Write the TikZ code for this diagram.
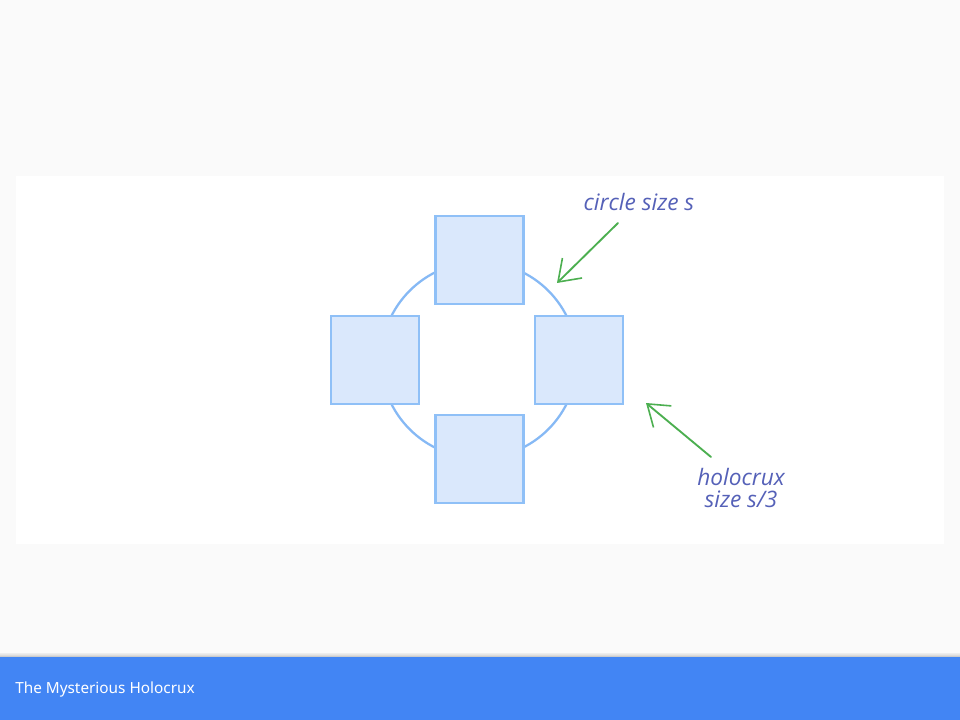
\documentclass[tikz,border=0pt]{standalone}
\usepackage{fontspec}
\setmainfont{Noto Sans}
\newfontfamily\handfont{Open Sans}
\usetikzlibrary{positioning,arrows.meta}

\definecolor{pagebg}{HTML}{FAFAFA}
\definecolor{barblue}{HTML}{4285F4}
\definecolor{boxfill}{HTML}{DAE8FC}
\definecolor{boxline}{HTML}{8FC0F7}
\definecolor{ringline}{HTML}{86B9F5}
\definecolor{arrowgreen}{HTML}{4CAF50}
\definecolor{notetext}{HTML}{5561B8}

\tikzset{
  holobox/.style={draw=boxline, fill=boxfill, line width=1.6pt, minimum size=66pt, inner sep=0pt},
  notearrow/.style={draw=arrowgreen, line width=1.4pt, line cap=round, -{Straight Barb[length=15pt, width=21pt, line width=1.2pt]}},
  note/.style={text=notetext, font=\handfont\itshape\fontsize{17}{16.5}\selectfont, align=center, inner sep=0pt}
}

\begin{document}
\begin{tikzpicture}[x=0.75pt, y=-0.75pt]
\useasboundingbox (0,0) rectangle (960,720);
\fill[pagebg] (0,0) rectangle (960,720);
\fill[white] (16,176) rectangle (944,544);

% ring behind the holocruxes
\draw[ringline, line width=1.7pt] (479,360) circle[radius=98];

\node[holobox] (top) at (479.5,260) {};
\node[holobox] (left) at (375,360) {};
\node[holobox] (right) at (579,360) {};
\node[holobox] (bottom) at (479.5,459) {};

% notes
\node[note] (circlenote) at (639,202) {circle size s};
\node[note] (holonote) at (741,488) {holocrux\\size s/3};

\coordinate (ringtail) at (618,223);
\coordinate (ringtip) at (557,283);
\coordinate (holotail) at (711,457);
\coordinate (holotip) at (646,403);
\draw[notearrow] (ringtail) -- (ringtip);
\draw[notearrow] (holotail) -- (holotip);

% bottom bar
\foreach \i/\op in {0/0.05,1/0.08,2/0.12,3/0.18}
  \fill[black, opacity=\op] (0,653+\i) rectangle (960,654+\i);
\fill[barblue] (0,657) rectangle (960,720);
\node[anchor=west, text=white, font=\fontsize{11.5}{14}\selectfont, inner sep=0pt] (title) at (15,690) {The Mysterious Holocrux};
\end{tikzpicture}
\end{document}
